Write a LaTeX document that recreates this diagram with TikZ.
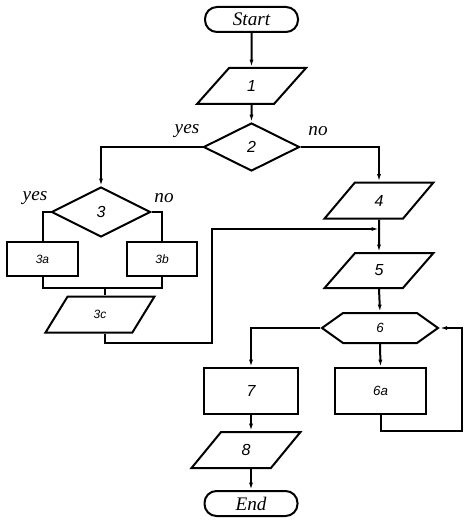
\documentclass[tikz,border=0pt]{standalone}
\usepackage{fontspec}
\setmainfont{Liberation Serif}
\newfontfamily\numfont{Liberation Sans}
\usetikzlibrary{shapes.geometric,shapes.symbols,arrows.meta}
\begin{document}
\begin{tikzpicture}[x=0.75pt,y=-0.75pt,
  every node/.style={line width=1.5pt,inner sep=0pt},
  line/.style={line width=1.5pt},
  arr/.style={line width=1.5pt,-{Latex[length=5.5pt,width=3pt]}},
  term/.style={draw,rectangle,rounded corners=9pt,minimum width=69.75pt,minimum height=18.75pt,font=\Large\itshape},
  io/.style={draw,trapezium,trapezium left angle=63,trapezium right angle=117,trapezium stretches=true,minimum width=81.75pt,minimum height=27pt,font=\numfont\itshape\large},
  proc/.style={draw,rectangle,font=\numfont\itshape\large},
  dec/.style={draw,diamond,font=\numfont\itshape\large},
  small/.style={font=\numfont\itshape\small},
  lbl/.style={font=\Large\itshape}]
\useasboundingbox (0,0) rectangle (474,524);
% nodes
\node[term] (start) at (251.5,19.5) {Start};
\node[io,trapezium left angle=60,trapezium right angle=120] (n1) at (251.5,86) {1};
\node[dec,minimum width=72pt,minimum height=36pt] (n2) at (251.5,147) {2};
\node[dec,minimum width=74.25pt,minimum height=37.5pt] (n3) at (101,212) {3};
\node[proc,small,minimum width=53.25pt,minimum height=25.5pt] (n3a) at (42.5,259) {3a};
\node[proc,small,minimum width=52.5pt,minimum height=25.5pt] (n3b) at (162,259) {3b};
\node[io,small] (n3c) at (100,314.5) {3c};
\node[io] (n4) at (379,200.5) {4};
\node[io,minimum height=26.25pt] (n5) at (379,270.5) {5};
\node[draw,signal,signal to=west and east,signal pointer angle=71,minimum width=87pt,minimum height=22.5pt,font=\numfont\itshape] (n6) at (380,328) {6};
\node[proc,minimum width=70.5pt,minimum height=34.5pt] (n7) at (251,391) {7};
\node[proc,font=\numfont\itshape,minimum width=68.25pt,minimum height=34.5pt] (n6a) at (380.5,391) {6a};
\node[io,trapezium left angle=65,trapezium right angle=115,minimum height=27pt] (n8) at (246,450) {8};
\node[term] (end) at (251,503.5) {End};
% labels
\node[lbl] (y2) at (187,131) {yes};
\node[lbl] (no2) at (318,131) {no};
\node[lbl] (y3) at (35,198) {yes};
\node[lbl] (no3) at (164,198) {no};
% coordinates
\coordinate (j3) at (105,288);
\coordinate (c1) at (212,343);
\coordinate (c2) at (212,229);
\coordinate (j45) at (379,229);
\coordinate (r1) at (462,431);
% connectors
\draw[arr] (start.south) -- (n1.north);
\draw[arr] (n1.south) -- (n2.north);
\draw[arr] (n2.west) -| (n3.north);
\draw[arr] (n2.east) -| (n4.north);
\draw[line] (n3.west) -| (n3a.north);
\draw[line] (n3.east) -| (n3b.north);
\draw[line] (n3a.south) |- (j3) -| (n3b.south);
\draw[line] (j3) -- (n3c.north -| j3);
\draw[arr] (n3c.south -| j3) |- (c1) -- (c2) -- (j45);
\draw[arr] (n4.south) -- (n5.north);
\draw[arr] (n5.south) -- (n6.north);
\draw[arr] (n6.west) -| (n7.north);
\draw[arr] (n6.south) -- (n6a.north);
\draw[arr] (n6a.south) |- (r1) |- (n6.east);
\draw[arr] (n7.south) -- (n7.south |- n8.north);
\draw[arr] (n8.south -| end.north) -- (end.north);
\end{tikzpicture}
\end{document}
